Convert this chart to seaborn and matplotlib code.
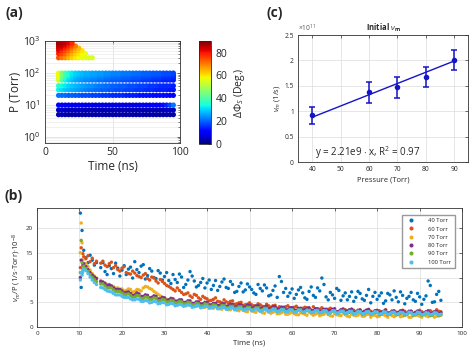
import numpy as np
import pandas as pd
import matplotlib
matplotlib.use('Agg')
import matplotlib.pyplot as plt
import seaborn as sns
from matplotlib.ticker import FixedLocator, FuncFormatter, LogLocator, NullFormatter

# ---------------- Panel (a) data ----------------
t_a = list(np.arange(10, 96, 2.5))  # sampling grid, 35 samples (full rows)
dphi_5 = [4,4,3,3,3,3,3,3,3,3,3,3,3,3,3,3,3,3,3,3,3,3,3,3,3,3,3,3,3,3,3,3,3,3,3]
dphi_7 = [6,6,5,5,5,5,5,5,4,4,4,4,4,4,4,4,4,4,4,4,4,4,4,4,4,4,4,4,4,4,4,4,5,5,5]
dphi_10 = [11,10,10,10,9,9,9,9,9,8,8,8,8,8,8,8,8,8,8,8,8,8,8,8,8,9,9,9,10,10,11,12,14,17,22]
dphi_20 = [22,21,21,20,20,19,19,18,18,18,17,17,17,16,16,16,15,15,15,15,14,14,14,14,13,13,13,13,12,12,12,12,12,11,11]
dphi_30 = [33,31,29,28,27,26,25,24,23,22,22,21,21,20,20,19,19,18,18,18,17,17,17,16,16,16,15,15,15,14,14,14,14,13,13]
dphi_40 = [36,34,32,30,29,28,27,26,25,24,24,23,22,22,21,21,20,20,19,19,19,18,18,18,17,17,17,16,16,16,15,15,15,15,14]
dphi_60 = [54,40,33,30,28,26,25,24,23,23,22,22,21,21,20,20,19,19,19,18,18,18,17,17,17,16,16,16,15,15,15,14,14,14,13]
dphi_70 = [55,42,35,31,29,27,26,25,24,24,23,23,22,22,21,21,20,20,20,19,19,19,18,18,18,17,17,17,16,16,16,15,15,15,14]
dphi_80 = [56,44,37,33,30,28,27,26,25,25,24,24,23,23,22,22,21,21,21,20,20,20,19,19,19,18,18,18,17,17,17,16,16,16,15]
dphi_90 = [57,45,38,34,31,29,28,27,26,26,25,25,24,24,23,23,22,22,22,21,21,21,20,20,20,19,19,19,18,18,18,17,17,17,16]
dphi_100 = [58,46,39,35,32,30,29,28,27,27,26,26,25,25,24,24,23,23,23,22,22,22,21,21,21,20,20,20,19,19,19,18,18,18,17]
dphi_300 = [74,71,68,65,62,60,58,57,56,55,55]
dphi_400 = [78,75,72,68,65,62,60,58,57]
dphi_500 = [81,78,75,72,68,65,62,60]
dphi_600 = [83,81,78,75,71,67,64]
dphi_700 = [85,84,81,78,74,70]
dphi_800 = [86,85,83,80,76]
dphi_900 = [87,86,85,82,78]
rows_a = {5: dphi_5, 7: dphi_7, 10: dphi_10, 20: dphi_20, 30: dphi_30, 40: dphi_40,
          60: dphi_60, 70: dphi_70, 80: dphi_80, 90: dphi_90, 100: dphi_100,
          300: dphi_300, 400: dphi_400, 500: dphi_500, 600: dphi_600, 700: dphi_700,
          800: dphi_800, 900: dphi_900}

# ---------------- Panel (b) data ----------------
t_b = [10.2, 10.4, 10.6, 10.8, 11, 11.5, 12, 12.5, 13, 13.5, 14] + list(range(15, 96))
t_b2 = list(np.arange(15.5, 95, 1.0))   # interleaved samples 15.5 ... 94.5
nu_40 = [23.0, 8.0, 19.5, 12.0, 15.5, 14.0, 13.0, 14.5, 13.5, 12.5, 13.0,
         12.0, 11.2, 12.4, 10.8, 11.9, 11.5, 10.6, 12.1, 13.2, 11.0, 12.6, 10.4, 11.3, 9.8, 10.9,
         10.2, 9.4, 10.6, 9.0, 10.1, 8.6, 11.2, 9.3, 8.4, 9.8, 8.9, 7.6, 9.4, 8.2, 9.7, 7.8,
         8.6, 7.2, 8.9, 7.5, 8.1, 6.9, 8.6, 7.3, 7.9, 6.5, 8.3, 10.2, 7.0, 6.2, 7.7, 6.6,
         8.0, 5.9, 7.2, 6.4, 7.9, 9.9, 6.1, 7.0, 5.8, 7.4, 6.3, 5.5, 7.1, 6.0, 6.8, 5.4,
         7.6, 6.2, 5.6, 6.9, 5.3, 6.5, 7.3, 5.1, 6.4, 5.8, 7.0, 5.2, 6.1, 5.6, 9.3, 5.0, 6.6, 5.4]
nu_40b = [13.0, 10.6, 11.8, 12.9, 10.3, 12.4, 11.7, 9.9, 11.6, 12.3,
          9.7, 11.8, 10.0, 11.4, 9.5, 11.0, 8.8, 9.6, 10.7, 8.0,
          9.5, 10.3, 8.1, 9.0, 7.9, 9.5, 8.4, 7.4, 9.1, 8.0,
          9.2, 7.0, 8.2, 7.1, 8.7, 7.6, 6.6, 7.8, 8.5, 6.3,
          7.4, 6.0, 9.2, 7.8, 6.9, 5.8, 7.5, 6.9, 5.6, 8.1,
          6.0, 7.3, 8.6, 5.5, 6.5, 7.8, 5.4, 6.9, 6.2, 5.2,
          7.2, 5.7, 6.4, 4.9, 7.0, 6.3, 4.8, 6.8, 5.5, 6.0,
          7.1, 4.7, 6.2, 5.5, 6.8, 4.6, 6.3, 8.4, 5.1, 7.2]
nu_60 = [12.0, 16.0, 13.5, 14.8, 14.2, 13.8, 14.4, 13.2, 13.9, 12.8, 13.3,
         12.9, 12.5, 12.8, 12.0, 11.6, 11.9, 11.0, 10.7, 10.9, 10.2, 10.5, 9.8, 10.1, 9.3, 9.6,
         8.8, 8.2, 7.6, 7.9, 7.0, 6.7, 6.3, 6.6, 5.9, 6.2, 5.7, 5.4, 5.9, 5.1, 5.5, 4.9,
         5.3, 4.7, 5.0, 4.5, 4.9, 4.3, 4.7, 4.2, 4.6, 4.0, 4.4, 4.1, 3.8, 4.3, 3.9, 4.2,
         3.6, 4.0, 3.7, 4.1, 3.5, 3.9, 3.4, 3.8, 3.5, 3.2, 3.7, 3.3, 3.6, 3.1, 3.5, 3.2,
         3.6, 3.0, 3.4, 3.1, 3.5, 2.9, 3.3, 3.0, 3.4, 2.8, 3.2, 3.0, 3.4, 2.9, 3.3, 3.0, 3.5, 3.1]
nu_60b = [13.3, 12.2, 13.1, 12.4, 11.3, 12.2, 10.8, 11.3, 10.4, 10.0,
          10.8, 9.5, 9.9, 8.9, 9.2, 8.4, 7.9, 7.3, 7.4, 6.6,
          6.9, 6.0, 6.4, 5.6, 5.9, 5.3, 5.6, 5.2, 4.9, 5.1,
          5.2, 4.6, 4.9, 4.4, 4.6, 4.5, 4.1, 4.5, 3.9, 4.3,
          4.3, 3.8, 4.0, 4.1, 3.6, 4.0, 3.5, 3.8, 3.9, 3.4,
          3.7, 3.6, 3.3, 3.6, 3.5, 3.1, 3.4, 3.5, 3.0, 3.4,
          3.3, 2.9, 3.4, 3.2, 2.8, 3.3, 3.1, 2.9, 3.2, 3.0,
          2.8, 3.2, 3.0, 2.8, 3.2, 3.1, 2.8, 3.3, 2.9, 3.2]
nu_70 = [15.0, 21.0, 17.0, 13.5, 12.0, 12.8, 12.2, 11.5, 10.8, 10.3, 9.9,
         9.4, 8.9, 8.6, 8.2, 7.9, 7.7, 7.4, 7.6, 7.2, 7.5, 7.9, 8.1, 7.6, 6.9, 6.3,
         5.8, 5.5, 5.1, 5.3, 4.8, 4.6, 4.9, 4.3, 4.5, 4.1, 4.4, 3.9, 4.2, 3.7, 4.0, 3.5,
         3.9, 3.4, 3.7, 3.2, 3.6, 3.1, 3.4, 2.9, 3.3, 2.8, 3.2, 2.7, 3.1, 2.6, 3.0, 2.5,
         2.9, 2.6, 3.0, 2.4, 2.8, 2.5, 2.9, 2.3, 2.7, 2.4, 2.8, 2.2, 2.6, 2.3, 2.7, 2.2,
         2.6, 2.4, 2.1, 2.6, 2.3, 2.7, 2.1, 2.5, 2.2, 2.6, 2.0, 2.4, 2.2, 2.6, 2.1, 2.5, 2.2, 2.4]
nu_70b = [9.0, 8.6, 8.3, 7.9, 7.6, 7.3, 7.7, 7.1, 7.6, 7.3,
          8.2, 7.8, 7.2, 6.6, 6.0, 5.6, 5.3, 5.4, 4.9, 4.7,
          4.5, 4.6, 4.2, 4.3, 4.0, 4.1, 3.8, 3.9, 3.6, 3.8,
          3.5, 3.6, 3.3, 3.5, 3.1, 3.3, 3.0, 3.2, 2.8, 3.0,
          3.0, 2.7, 2.9, 2.6, 2.8, 2.7, 2.5, 2.8, 2.4, 2.7,
          2.6, 2.3, 2.6, 2.5, 2.2, 2.5, 2.3, 2.5, 2.1, 2.4,
          2.4, 2.2, 2.5, 2.0, 2.4, 2.2, 2.5, 2.0, 2.3, 2.4,
          2.1, 2.4, 2.0, 2.3, 2.4, 2.0, 2.3, 2.4, 2.0, 2.3]
nu_80 = [10.0, 13.5, 11.0, 12.5, 12.8, 12.2, 11.6, 11.0, 10.5, 10.1, 9.8,
         9.2, 8.8, 8.5, 7.9, 7.6, 7.3, 7.0, 6.8, 6.5, 6.7, 6.2, 6.4, 6.0, 6.2, 5.7,
         5.9, 5.5, 5.7, 5.2, 5.5, 5.0, 5.3, 4.8, 5.1, 4.7, 5.0, 4.5, 4.8, 4.4, 4.7, 4.3,
         4.6, 4.1, 4.5, 4.0, 4.4, 3.9, 4.3, 3.8, 4.2, 3.7, 4.1, 3.6, 4.0, 3.5, 3.9, 3.4,
         3.8, 3.5, 3.9, 3.3, 3.7, 3.2, 3.6, 3.3, 3.7, 3.1, 3.5, 3.2, 3.6, 3.0, 3.4, 3.1,
         3.5, 2.9, 3.3, 3.0, 3.4, 2.8, 3.2, 2.9, 3.3, 2.8, 3.2, 2.9, 3.1, 2.7, 3.2, 2.8, 3.1, 2.9]
nu_80b = [9.1, 8.4, 8.3, 7.6, 7.6, 6.9, 7.1, 6.4, 6.9, 6.2,
          6.5, 5.9, 6.3, 5.7, 6.0, 5.4, 5.8, 5.2, 5.5, 5.0,
          5.3, 4.8, 5.1, 4.7, 5.0, 4.5, 4.8, 4.4, 4.7, 4.2,
          4.6, 4.1, 4.5, 4.0, 4.4, 3.9, 4.3, 3.8, 4.1, 3.7,
          4.1, 3.6, 4.0, 3.5, 3.9, 3.4, 3.8, 3.4, 3.7, 3.4,
          3.7, 3.2, 3.6, 3.3, 3.6, 3.1, 3.5, 3.2, 3.5, 3.0,
          3.4, 3.0, 3.4, 2.9, 3.3, 2.9, 3.2, 2.8, 3.2, 2.8,
          3.3, 2.8, 3.2, 2.7, 3.2, 2.7, 3.1, 2.7, 3.1, 2.7]
nu_90 = [11.0, 17.5, 13.0, 11.5, 12.3, 11.8, 11.2, 10.6, 10.0, 9.6, 9.2,
         8.7, 8.3, 7.9, 7.5, 7.2, 6.9, 6.6, 6.4, 6.1, 6.3, 5.8, 6.0, 5.6, 5.8, 5.3,
         5.5, 5.1, 5.3, 4.9, 5.1, 4.7, 4.9, 4.5, 4.7, 4.3, 4.6, 4.2, 4.4, 4.0, 4.3, 3.9,
         4.2, 3.8, 4.1, 3.7, 4.0, 3.6, 3.9, 3.5, 3.8, 3.4, 3.7, 3.3, 3.6, 3.2, 3.5, 3.1,
         3.5, 3.1, 3.4, 3.0, 3.4, 3.0, 3.3, 2.9, 3.3, 2.9, 3.2, 2.8, 3.2, 2.8, 3.1, 2.7,
         3.1, 2.7, 3.0, 2.6, 3.0, 2.6, 2.9, 2.6, 2.9, 2.5, 2.9, 2.5, 2.8, 2.5, 2.8, 2.4, 2.8, 2.5]
nu_90b = [8.7, 7.9, 7.9, 7.2, 7.2, 6.6, 6.7, 6.0, 6.4, 5.8,
          6.1, 5.6, 5.9, 5.3, 5.6, 5.1, 5.4, 4.9, 5.2, 4.7,
          5.0, 4.5, 4.8, 4.3, 4.7, 4.2, 4.5, 4.0, 4.4, 3.9,
          4.2, 3.8, 4.1, 3.6, 4.0, 3.5, 3.9, 3.4, 3.8, 3.3,
          3.7, 3.2, 3.6, 3.2, 3.5, 3.1, 3.5, 3.0, 3.4, 3.0,
          3.3, 2.9, 3.3, 2.8, 3.2, 2.8, 3.2, 2.7, 3.1, 2.7,
          3.1, 2.6, 3.0, 2.6, 3.0, 2.5, 3.0, 2.5, 2.9, 2.5,
          2.9, 2.4, 2.9, 2.4, 2.8, 2.4, 2.8, 2.3, 2.8, 2.3]
nu_100 = [9.5, 11.0, 10.5, 11.2, 11.8, 11.4, 10.8, 10.1, 9.5, 9.0, 8.6,
          8.0, 7.6, 7.2, 6.8, 6.5, 6.2, 6.0, 5.7, 5.5, 5.6, 5.2, 5.3, 5.0, 5.1, 4.8,
          4.9, 4.6, 4.7, 4.4, 4.5, 4.3, 4.4, 4.1, 4.3, 4.0, 4.2, 3.9, 4.1, 3.8, 4.0, 3.7,
          3.9, 3.6, 3.8, 3.5, 3.7, 3.4, 3.6, 3.3, 3.6, 3.3, 3.5, 3.2, 3.5, 3.2, 3.4, 3.1,
          3.4, 3.1, 3.3, 3.0, 3.3, 3.0, 3.2, 2.9, 3.2, 2.9, 3.2, 2.9, 3.1, 2.8, 3.1, 2.8,
          3.1, 2.8, 3.0, 2.7, 3.0, 2.7, 3.0, 2.7, 2.9, 2.6, 2.9, 2.6, 2.9, 2.6, 2.8, 2.6, 2.8, 2.6]
nu_100b = [7.9, 7.3, 7.1, 6.5, 6.5, 6.0, 6.0, 5.5, 5.7, 5.2,
           5.4, 4.9, 5.2, 4.7, 5.0, 4.5, 4.8, 4.3, 4.6, 4.2,
           4.5, 4.0, 4.3, 3.9, 4.2, 3.8, 4.1, 3.7, 4.0, 3.6,
           3.9, 3.5, 3.8, 3.4, 3.7, 3.3, 3.7, 3.2, 3.6, 3.2,
           3.6, 3.1, 3.5, 3.1, 3.5, 3.0, 3.4, 3.0, 3.4, 2.9,
           3.3, 2.9, 3.3, 2.8, 3.3, 2.8, 3.2, 2.8, 3.2, 2.7,
           3.2, 2.7, 3.1, 2.7, 3.1, 2.6, 3.1, 2.6, 3.0, 2.6,
           3.0, 2.6, 3.0, 2.5, 3.0, 2.5, 2.9, 2.5, 2.9, 2.5]
labels_b = ['40 Torr', '60 Torr', '70 Torr', '80 Torr', '90 Torr', '100 Torr']
series_b = [nu_40, nu_60, nu_70, nu_80, nu_90, nu_100]
series_b2 = [nu_40b, nu_60b, nu_70b, nu_80b, nu_90b, nu_100b]
colors_b = ['#0072BD', '#D95319', '#EDB120', '#7E2F8E', '#77AC30', '#4DBEEE']

# ---------------- Panel (c) data ----------------
P_c = [40, 60, 70, 80, 90]
nu_c = [0.92, 1.37, 1.47, 1.68, 2.01]      # x 1e11 1/s
err_c = [0.165, 0.215, 0.20, 0.20, 0.20]
slope_c = 2.21e9 / 1e11
r2_c = 0.97

# ---------------- Style ----------------
sns.set_style('white')
plt.rcParams['font.family'] = ['Open Sans', 'DejaVu Sans']
plt.rcParams['mathtext.fontset'] = 'custom'
plt.rcParams['mathtext.rm'] = 'Open Sans'
plt.rcParams['mathtext.it'] = 'Open Sans:italic'
plt.rcParams['mathtext.bf'] = 'Open Sans:bold'
TXT = '#262626'
GRID = '#dcdcdc'
JET = matplotlib.colormaps['jet']

fig = plt.figure(figsize=(4.74, 3.54), dpi=100)

def matlab_axes(ax, fs):
    for sp in ax.spines.values():
        sp.set_color('#333333')
        sp.set_linewidth(0.6)
    ax.tick_params(direction='in', top=True, right=True, length=2.5, width=0.5,
                   labelsize=fs, colors='#333333', labelcolor=TXT, pad=3)
    ax.grid(True, color=GRID, linewidth=0.5)
    ax.set_axisbelow(True)

# ---- Panel (a)
ax_a = fig.add_axes([0.095, 0.596, 0.285, 0.288])
recs = []
for p, vals in rows_a.items():
    for t, v in zip(t_a, vals):
        recs.append((t, p, v))
df_a = pd.DataFrame(recs, columns=['t', 'P', 'dphi'])
sns.scatterplot(data=df_a, x='t', y='P', hue='dphi', palette=JET, hue_norm=(0, 90),
                s=14, linewidth=0, legend=False, ax=ax_a)
ax_a.set_yscale('log')
ax_a.set_xlim(0, 100)
ax_a.set_ylim(0.65, 1000)
ax_a.set_xticks([0, 50, 100])
ax_a.yaxis.set_major_locator(FixedLocator([1, 10, 100, 1000]))
ax_a.yaxis.set_minor_locator(LogLocator(base=10, subs=np.arange(2, 10), numticks=20))
ax_a.yaxis.set_minor_formatter(NullFormatter())
matlab_axes(ax_a, 7.5)
ax_a.grid(True, which='minor', axis='y', color='#e6e6e6', linewidth=0.4)
ax_a.tick_params(which='minor', direction='in', right=True, length=1.5, width=0.4)
ax_a.set_xlabel('Time (ns)', fontsize=8.5, color=TXT, labelpad=1)
ax_a.set_ylabel('P (Torr)', fontsize=8.5, color=TXT, labelpad=1)

cax = fig.add_axes([0.420, 0.593, 0.025, 0.291])
sm = matplotlib.cm.ScalarMappable(cmap=JET, norm=matplotlib.colors.Normalize(0, 90))
cb = fig.colorbar(sm, cax=cax)
cb.set_ticks([0, 20, 40, 60, 80])
cb.outline.set_linewidth(0.6)
cax.tick_params(direction='in', length=2.5, width=0.5, labelsize=7.5, labelcolor=TXT)
cb.set_label(r'$\Delta\Phi_S$ (Deg.)', fontsize=7.5, color=TXT, labelpad=3)

# ---- Panel (c)
ax_c = fig.add_axes([0.629, 0.542, 0.359, 0.359])
df_c = pd.DataFrame({'P': P_c, 'nu': nu_c})
ax_c.errorbar(P_c, nu_c, yerr=err_c, fmt='none', ecolor='#1414c8', elinewidth=1.1,
              capsize=2.2, capthick=1.1, zorder=3)
sns.scatterplot(data=df_c, x='P', y='nu', color='#1414c8', s=16, linewidth=0, ax=ax_c, zorder=4)
fit_x = [P_c[0], P_c[-1]]
sns.lineplot(x=fit_x, y=[slope_c * x for x in fit_x], color='#1414c8', linewidth=1.0, ax=ax_c)
ax_c.set_xlim(35, 95)
ax_c.set_ylim(0, 2.5)
ax_c.set_xticks([40, 50, 60, 70, 80, 90])
ax_c.set_yticks([0, 0.5, 1, 1.5, 2, 2.5])
ax_c.yaxis.set_major_formatter(FuncFormatter(lambda v, p: '%g' % v))
matlab_axes(ax_c, 4.8)
ax_c.set_xlabel('Pressure (Torr)', fontsize=5.5, color=TXT, labelpad=2)
ax_c.set_ylabel(r'$\nu_m$ (1/s)', fontsize=5.5, color=TXT, labelpad=2)
ax_c.set_title(r'Initial $\nu_\mathbf{m}$', fontsize=5.5, fontweight='bold', color=TXT, pad=3)
ax_c.text(0.0, 1.01, r'$\times10^{11}$', transform=ax_c.transAxes, fontsize=4.8,
          color='#555555', ha='left', va='bottom')
ax_c.text(41, 0.12, 'y = 2.21e9 $\\cdot$ x, R$^2$ = %.2f' % r2_c, fontsize=7, color=TXT)

# ---- Panel (b)
ax_b = fig.add_axes([0.078, 0.076, 0.897, 0.336])
recs = []
for lab, vals, vals2 in zip(labels_b, series_b, series_b2):
    for t, v in zip(t_b, vals):
        recs.append((t, v, lab))
    for t, v in zip(t_b2, vals2):
        recs.append((t, v, lab))
df_b = pd.DataFrame(recs, columns=['t', 'nu', 'Pressure'])
sns.scatterplot(data=df_b, x='t', y='nu', hue='Pressure', hue_order=labels_b,
                palette=colors_b, s=6, linewidth=0, ax=ax_b)
ax_b.set_xlim(0, 100)
ax_b.set_ylim(0, 24)
ax_b.set_xticks(range(0, 101, 10))
ax_b.set_yticks([0, 5, 10, 15, 20])
matlab_axes(ax_b, 4.5)
ax_b.set_xlabel('Time (ns)', fontsize=5.5, color=TXT, labelpad=2)
ax_b.set_ylabel(r'$\nu_m$/P (1/s$\cdot$Torr)$\cdot$10$^{-8}$', fontsize=5.5, color=TXT, labelpad=2)
sns.move_legend(ax_b, 'upper right', title=None, fontsize=4.2, markerscale=1.2,
                frameon=True, fancybox=False, edgecolor='#999999', framealpha=1,
                borderpad=0.6, labelspacing=0.55, handletextpad=2.0, bbox_to_anchor=(0.99, 0.97))

# ---- panel letters
fig.text(0.012, 0.963, '(a)', fontsize=10, fontweight='bold', va='center')
fig.text(0.563, 0.963, '(c)', fontsize=10, fontweight='bold', va='center')
fig.text(0.010, 0.447, '(b)', fontsize=10, fontweight='bold', va='center')

fig.savefig('out.png', dpi=100)
